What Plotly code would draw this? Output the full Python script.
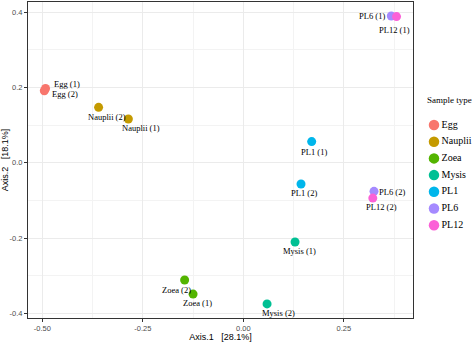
import plotly.graph_objects as go

# ---- data ----
sample_types = ["Egg", "Nauplii", "Zoea", "Mysis", "PL1", "PL6", "PL12"]
labels = ["Egg (1)", "Egg (2)", "Nauplii (2)", "Nauplii (1)", "PL6 (1)", "PL12 (1)",
          "PL1 (1)", "PL1 (2)", "PL6 (2)", "PL12 (2)", "Mysis (1)", "Mysis (2)",
          "Zoea (2)", "Zoea (1)"]
groups = ["Egg", "Egg", "Nauplii", "Nauplii", "PL6", "PL12",
          "PL1", "PL1", "PL6", "PL12", "Mysis", "Mysis", "Zoea", "Zoea"]
axis1 = [-0.492, -0.495, -0.360, -0.286, 0.368, 0.381,
         0.170, 0.1435, 0.325, 0.322, 0.1286, 0.059, -0.146, -0.125]
axis2 = [0.197, 0.191, 0.147, 0.116, 0.3895, 0.388,
         0.056, -0.0566, -0.076, -0.094, -0.2106, -0.375, -0.3115, -0.349]
x_ticks = [-0.50, -0.25, 0.00, 0.25]
x_ticklabels = ["-0.50", "-0.25", "0.00", "0.25"]
y_ticks = [-0.4, -0.2, 0.0, 0.2, 0.4]
y_ticklabels = ["-0.4", "-0.2", "0.0", "0.2", "0.4"]
legend_title = "Sample type"

# ---- styles ----
colors = {"Egg": "#F8766D", "Nauplii": "#C49A00", "Zoea": "#53B400", "Mysis": "#00C094",
          "PL1": "#00B6EB", "PL6": "#A58AFF", "PL12": "#FB61D7"}
# label offsets in pixels (dx, dy with dy positive = down), and anchor
label_pos = {
    "Egg (1)": (6, -5, "left"), "Egg (2)": (6, 3, "left"),
    "Nauplii (2)": (8.6, 10, "center"), "Nauplii (1)": (12.5, 9.3, "center"),
    "PL6 (1)": (-4.5, 0, "right"), "PL12 (1)": (-1.8, 13.3, "center"),
    "PL1 (1)": (2.5, 10.3, "center"), "PL1 (2)": (2.5, 8.7, "center"),
    "PL6 (2)": (18.2, 0.7, "center"), "PL12 (2)": (9, 8.7, "center"),
    "Mysis (1)": (4.7, 9.3, "center"), "Mysis (2)": (11, 9.3, "center"),
    "Zoea (2)": (-8.4, 10.3, "center"), "Zoea (1)": (4.7, 9, "center"),
}

W, H = 474, 342
ML, MT, MB = 28, 2, 24
panel_right = 413
plot_w = W - ML
plot_h = H - MT - MB
main_dom = (panel_right - ML) / plot_w

fig = go.Figure()
for st in sample_types:
    xs = [x for x, g in zip(axis1, groups) if g == st]
    ys = [y for y, g in zip(axis2, groups) if g == st]
    fig.add_trace(go.Scatter(x=xs, y=ys, mode="markers", name=st, showlegend=False,
                             marker=dict(size=9, color=colors[st]), hoverinfo="skip"))

# legend drawn on an auxiliary (hidden) axis pair, one row per sample type
rows = list(range(len(sample_types)))
fig.add_trace(go.Scatter(
    x=[0] * len(rows), y=[-r for r in rows], xaxis="x2", yaxis="y2",
    mode="markers+text", text=sample_types, textposition="middle right",
    textfont=dict(family="Liberation Serif", size=10, color="#000000"),
    marker=dict(size=10.5, color=[colors[s] for s in sample_types]),
    cliponaxis=False, showlegend=False, hoverinfo="skip"))

row_h = 16.7
first_row_y = 125
fig.add_annotation(x=0, y=1.5, xref="x2", yref="y2", text=legend_title, showarrow=False,
                   xanchor="left", yanchor="middle", xshift=-9,
                   font=dict(family="Liberation Serif", size=9, color="#000000"))

for lab, x, y in zip(labels, axis1, axis2):
    dx, dy, anc = label_pos[lab]
    fig.add_annotation(x=x, y=y, text=lab, showarrow=False, xanchor=anc, yanchor="middle",
                       xshift=dx, yshift=-dy,
                       font=dict(family="Liberation Serif", size=8.5, color="#000000"))

axis_common = dict(showline=True, linecolor="#333333", linewidth=1, mirror=True,
                   showgrid=True, gridcolor="#EBEBEB", gridwidth=1, zeroline=False,
                   ticks="outside", ticklen=3, tickcolor="#333333",
                   tickfont=dict(family="Liberation Sans", size=7.5, color="#4D4D4D"))

fig.update_layout(
    width=W, height=H,
    margin=dict(l=ML, r=0, t=MT, b=MB, autoexpand=False),
    plot_bgcolor="rgba(0,0,0,0)", paper_bgcolor="white",
    showlegend=False,
    xaxis=dict(domain=[0, main_dom], anchor="y", range=[-0.5356, 0.422],
               tickvals=x_ticks, ticktext=x_ticklabels,
               minor=dict(dtick=0.125, tick0=0, showgrid=True, gridcolor="#F3F3F3", ticks=""),
               title=dict(text="Axis.1   [28.1%]", standoff=4,
                          font=dict(family="Liberation Sans", size=9, color="#000000")),
               **axis_common),
    yaxis=dict(domain=[0, 1], anchor="x", range=[-0.4124, 0.4267],
               tickvals=y_ticks, ticktext=y_ticklabels,
               minor=dict(dtick=0.1, tick0=0, showgrid=True, gridcolor="#F3F3F3", ticks=""),
               title=dict(text="Axis.2   [18.1%]", standoff=2,
                          font=dict(family="Liberation Sans", size=9, color="#000000")),
               **axis_common),
    xaxis2=dict(domain=[main_dom, 1], anchor="y2", range=[-21, W - panel_right - 21],
                visible=False, fixedrange=True),
    yaxis2=dict(domain=[0, 1], anchor="x2",
                range=[-(MT + plot_h - first_row_y) / row_h, (first_row_y - MT) / row_h],
                visible=False, fixedrange=True),
)

fig.write_html("out.html")
